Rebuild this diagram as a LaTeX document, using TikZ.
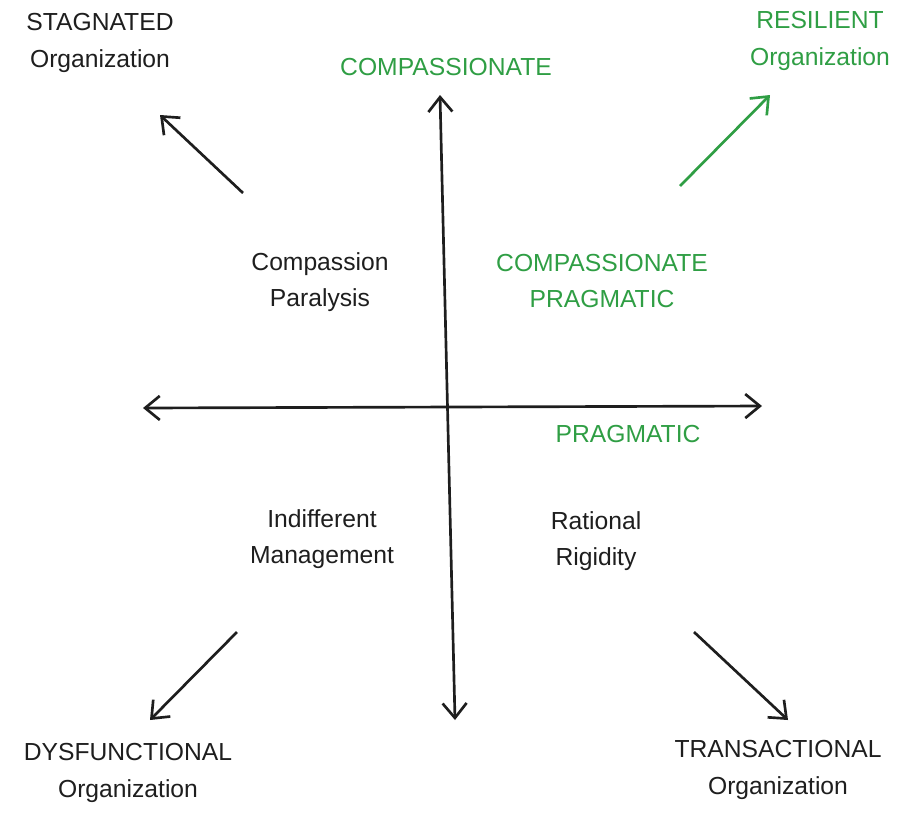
\documentclass[tikz,border=0pt]{standalone}
\usepackage{fontspec}
\setmainfont{Liberation Sans}
\usetikzlibrary{arrows.meta}
\definecolor{grn}{HTML}{2F9E44}
\definecolor{ink}{HTML}{1E1E1E}
\begin{document}
\begin{tikzpicture}[x=0.75pt,y=-0.75pt,
  lbl/.style={font=\fontsize{18.5}{27.5}\selectfont, text=ink, align=center, inner sep=0pt},
  glbl/.style={lbl, text=grn},
  axis/.style={draw=ink, line width=2pt, {Straight Barb[length=11pt,width=18pt]}-{Straight Barb[length=11pt,width=18pt]}},
  diag/.style={draw=ink, line width=2pt, -{Straight Barb[length=11pt,width=18pt]}}]
\useasboundingbox (0,0) rectangle (916,815);
\coordinate (hl) at (143,408); \coordinate (hr) at (762,406);
\coordinate (vt) at (440,95); \coordinate (vb) at (455,720);
\draw[axis] (hl) -- (hr);
\draw[axis] (vt) -- (vb);
\coordinate (a1) at (243,193); \coordinate (b1) at (160,115);
\coordinate (a2) at (680,186); \coordinate (b2) at (770,95);
\coordinate (a3) at (237,632); \coordinate (b3) at (150,720);
\coordinate (a4) at (694,632); \coordinate (b4) at (788,720);
\draw[diag] (a1) -- (b1);
\draw[diag, draw=grn] (a2) -- (b2);
\draw[diag] (a3) -- (b3);
\draw[diag] (a4) -- (b4);
\node[lbl] (stag) at (100,43) {STAGNATED\\Organization};
\node[glbl] (comp) at (446,67) {COMPASSIONATE};
\node[glbl] (res) at (820,41) {RESILIENT\\Organization};
\node[lbl] (cp) at (320,282) {Compassion\\Paralysis};
\node[glbl] (cpr) at (602,281) {COMPASSIONATE\\PRAGMATIC};
\node[glbl] (prag) at (628,434) {PRAGMATIC};
\node[lbl] (ind) at (322,539) {Indifferent\\Management};
\node[lbl] (rat) at (596,541) {Rational\\Rigidity};
\node[lbl] (dys) at (128,773) {DYSFUNCTIONAL\\Organization};
\node[lbl] (tra) at (778,770) {TRANSACTIONAL\\Organization};
\end{tikzpicture}
\end{document}
